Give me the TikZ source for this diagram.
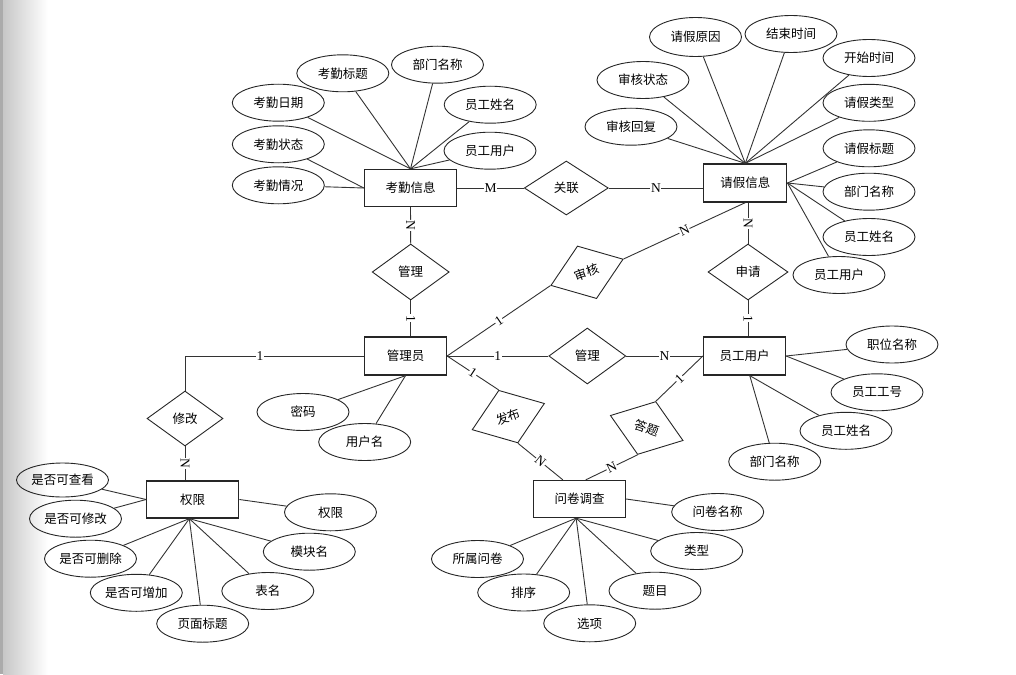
\documentclass[tikz,border=0pt]{standalone}
\usepackage{fontspec}
\usetikzlibrary{shapes.geometric}
\newfontfamily\cjk{Noto Sans CJK SC}
\newfontfamily\lblfont{Liberation Serif}

\begin{document}
\begin{tikzpicture}[x=1pt, y=-1pt,
    entity/.style={draw=black!85, line width=1.3pt, rectangle, minimum width=92pt,
    minimum height=37pt, inner sep=0, font=\cjk\fontsize{12.5}{14}\selectfont},
    attr/.style={draw=black!85, line width=0.9pt, ellipse, minimum width=92pt,
    minimum height=37pt, inner sep=0, font=\cjk\fontsize{12.5}{14}\selectfont},
    relation/.style={draw=black!85, line width=0.9pt, diamond, minimum width=77pt,
    minimum height=56pt, inner sep=0, font=\cjk\fontsize{12.5}{14}\selectfont},
    card/.style={fill=white, inner sep=0.6pt, sloped, font=\lblfont\fontsize{13.5}{14}\selectfont},
    conn/.style={draw=black!80, line width=0.9pt}]

    \useasboundingbox (0, 0) rectangle (1016, 674);

    % Page edge
    \fill[black!33] (0, 0) rectangle (3, 674);
    \shade[left color=black!22, right color=white] (3, 0) rectangle (48, 674);

    % Entities
    \node[entity] (kq) at (410.5, 188) {考勤信息};
    \node[entity, minimum width=83pt, minimum height=38pt] (qj) at (745.3, 183) {请假信息};
    \node[entity, minimum width=82pt, minimum height=38pt] (gly) at (405.5, 356) {管理员};
    \node[entity, minimum width=82pt, minimum height=38pt] (yg) at (744.5, 356) {员工用户};
    \node[entity] (qx) at (192.7, 499.5) {权限};
    \node[entity] (wj) at (579.5, 499) {问卷调查};

    % Relationships
    \node[relation, minimum width=84pt, minimum height=54pt] (gl) at (566.3, 188) {关联};
    \node[relation] (glk) at (410.7, 272) {管理};
    \node[relation] (glg) at (587.3, 356) {管理};
    \node[relation, rotate=20] (sh) at (587, 272.3) {审核};
    \node[relation, minimum width=80pt] (sq) at (748, 272) {申请};
    \node[relation, rotate=20] (fb) at (508.3, 416.6) {发布};
    \node[relation, rotate=-19] (dt) at (646.7, 428) {答题};
    \node[relation, minimum width=76pt, minimum height=55pt] (xg) at (185, 418.5) {修改};

    % Attributes of kq
    \node[attr] (kqrq) at (278.3, 102.7) {考勤日期};
    \node[attr] (kqbt) at (342.8, 73.3) {考勤标题};
    \node[attr] (kqbm) at (437.5, 64.7) {部门名称};
    \node[attr] (kqxm) at (490.2, 104.7) {员工姓名};
    \node[attr] (kqyh) at (490, 150.7) {员工用户};
    \node[attr] (kqzt) at (278.3, 144.3) {考勤状态};
    \node[attr] (kqqk) at (278.3, 185.3) {考勤情况};

    % Attributes of qj
    \node[attr] (shzt) at (643, 80) {审核状态};
    \node[attr] (shhf) at (631, 126.7) {审核回复};
    \node[attr, minimum height=39pt] (qjyy) at (695.5, 37) {请假原因};
    \node[attr] (jssj) at (791, 34) {结束时间};
    \node[attr] (kssj) at (869, 58) {开始时间};
    \node[attr] (qjlx) at (869, 102.8) {请假类型};
    \node[attr] (qjbt) at (869, 148.3) {请假标题};
    \node[attr] (qjbm) at (869, 191.7) {部门名称};
    \node[attr] (qjxm) at (869, 237) {员工姓名};
    \node[attr] (qjyh) at (839, 275) {员工用户};

    % Attributes of gly
    \node[attr] (mm) at (303, 412) {密码};
    \node[attr] (yhm) at (364.7, 442) {用户名};

    % Attributes of yg
    \node[attr] (zwmc) at (892, 344.5) {职位名称};
    \node[attr] (yggh) at (877, 392.3) {员工工号};
    \node[attr] (ygxm) at (846, 430.8) {员工姓名};
    \node[attr] (ygbm) at (774.7, 461.7) {部门名称};

    % Attributes of qx
    \node[attr, minimum height=34pt] (ckk) at (62.5, 480) {是否可查看};
    \node[attr] (xgk) at (75.5, 518.7) {是否可修改};
    \node[attr] (sck) at (90.5, 558.7) {是否可删除};
    \node[attr] (zjk) at (136.3, 592.8) {是否可增加};
    \node[attr] (ymbt) at (202.7, 623.7) {页面标题};
    \node[attr] (bm) at (267.8, 591) {表名};
    \node[attr] (mkm) at (309.3, 551.7) {模块名};
    \node[attr] (qxqx) at (330.5, 512.3) {权限};

    % Attributes of wj
    \node[attr] (ssj) at (477.5, 559) {所属问卷};
    \node[attr] (px) at (523.7, 592.5) {排序};
    \node[attr] (xx) at (589.7, 623.3) {选项};
    \node[attr] (tm) at (655, 590.7) {题目};
    \node[attr] (lx) at (696.7, 551) {类型};
    \node[attr] (wjmc) at (717.7, 512) {问卷名称};

    % Attribute links
    \foreach \a in {kqrq, kqbt, kqbm, kqxm, kqyh}
        \draw[conn] (kq.north) -- (\a);
    \foreach \a in {kqzt, kqqk}
        \draw[conn] (kq.west) -- (\a);
    \foreach \a in {shzt, shhf, qjyy, jssj, kssj, qjlx}
        \draw[conn] (qj.north) -- (\a);
    \foreach \a in {qjbt, qjbm, qjxm, qjyh}
        \draw[conn] (qj.east) -- (\a);
    \foreach \a in {mm, yhm}
        \draw[conn] (gly.south) -- (\a);
    \foreach \a in {zwmc, yggh}
        \draw[conn] (yg.east) -- (\a);
    \foreach \a in {ygxm, ygbm}
        \draw[conn] (yg.-75) -- (\a);
    \foreach \a in {ckk, xgk}
        \draw[conn] (qx.west) -- (\a);
    \foreach \a in {sck, zjk, ymbt, bm, mkm}
        \draw[conn] (qx.-100) -- (\a);
    \draw[conn] (qx.east) -- (qxqx);
    \foreach \a in {ssj, px, xx, tm, lx}
        \draw[conn] (wj.-100) -- (\a);
    \draw[conn] (wj.east) -- (wjmc);

    % Relationship links
    \draw[conn] (kq.east) -- node[card] {M} (gl.west);
    \draw[conn] (gl.east) -- node[card] {N} (gl.east -| qj.west);
    \draw[conn] (kq.south) -- node[card] {N} (glk.north);
    \draw[conn] (glk.south) -- node[card] {1} (glk.south |- gly.north);
    \draw[conn] (gly.east) -- node[card] {1} (sh.west);
    \draw[conn] (sh.east) -- node[card] {N} (qj.south);
    \draw[conn] (sq.north |- qj.south) -- node[card] {N} (sq.north);
    \draw[conn] (sq.south) -- node[card] {1} (sq.south |- yg.north);
    \draw[conn] (gly.east) -- node[card] {1} (glg.west);
    \draw[conn] (glg.east) -- node[card] {N} (yg.west);
    \draw[conn] (gly.east) -- node[card] {1} (fb.north);
    \draw[conn] (fb.south) -- node[card] {N} (wj.131);
    \draw[conn] (yg.west) -- node[card] {1} (dt.north);
    \draw[conn] (dt.south) -- node[card] {N} (wj.72);
    \draw[conn] (gly.west) -| node[card, pos=0.29] {1} (xg.north);
    \draw[conn] (xg.south) -- node[card] {N} (xg.south |- qx.north);

\end{tikzpicture}
\end{document}
